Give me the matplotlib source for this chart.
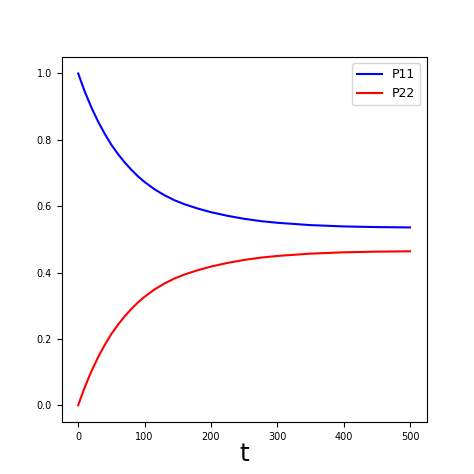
import matplotlib
matplotlib.use("Agg")
import matplotlib.pyplot as plt

# values
t = [0, 5, 10, 20, 30, 40, 50, 60, 70, 80, 90, 100, 115, 130, 145, 160,
     180, 200, 225, 250, 275, 300, 350, 400, 450, 500]
p11 = [1.0, 0.972, 0.945, 0.897, 0.855, 0.818, 0.785, 0.757, 0.732, 0.710,
       0.690, 0.673, 0.651, 0.633, 0.618, 0.606, 0.593, 0.582, 0.571, 0.562,
       0.555, 0.550, 0.543, 0.539, 0.537, 0.536]
p22 = [1 - v for v in p11]

fig = plt.figure(figsize=(4.74, 4.74), dpi=100)
ax = fig.add_axes([0.13, 0.11, 0.77, 0.77])
ax.plot(t, p11, color="blue", lw=1.5, label="P11")
ax.plot(t, p22, color="red", lw=1.5, label="P22")
ax.set_xticks([0, 100, 200, 300, 400, 500])
ax.set_yticks([0.0, 0.2, 0.4, 0.6, 0.8, 1.0])
ax.tick_params(labelsize=7)
ax.set_xlabel("t", fontsize=18, labelpad=0)
ax.legend(loc="upper right", fontsize=9)
fig.savefig("out.png")
